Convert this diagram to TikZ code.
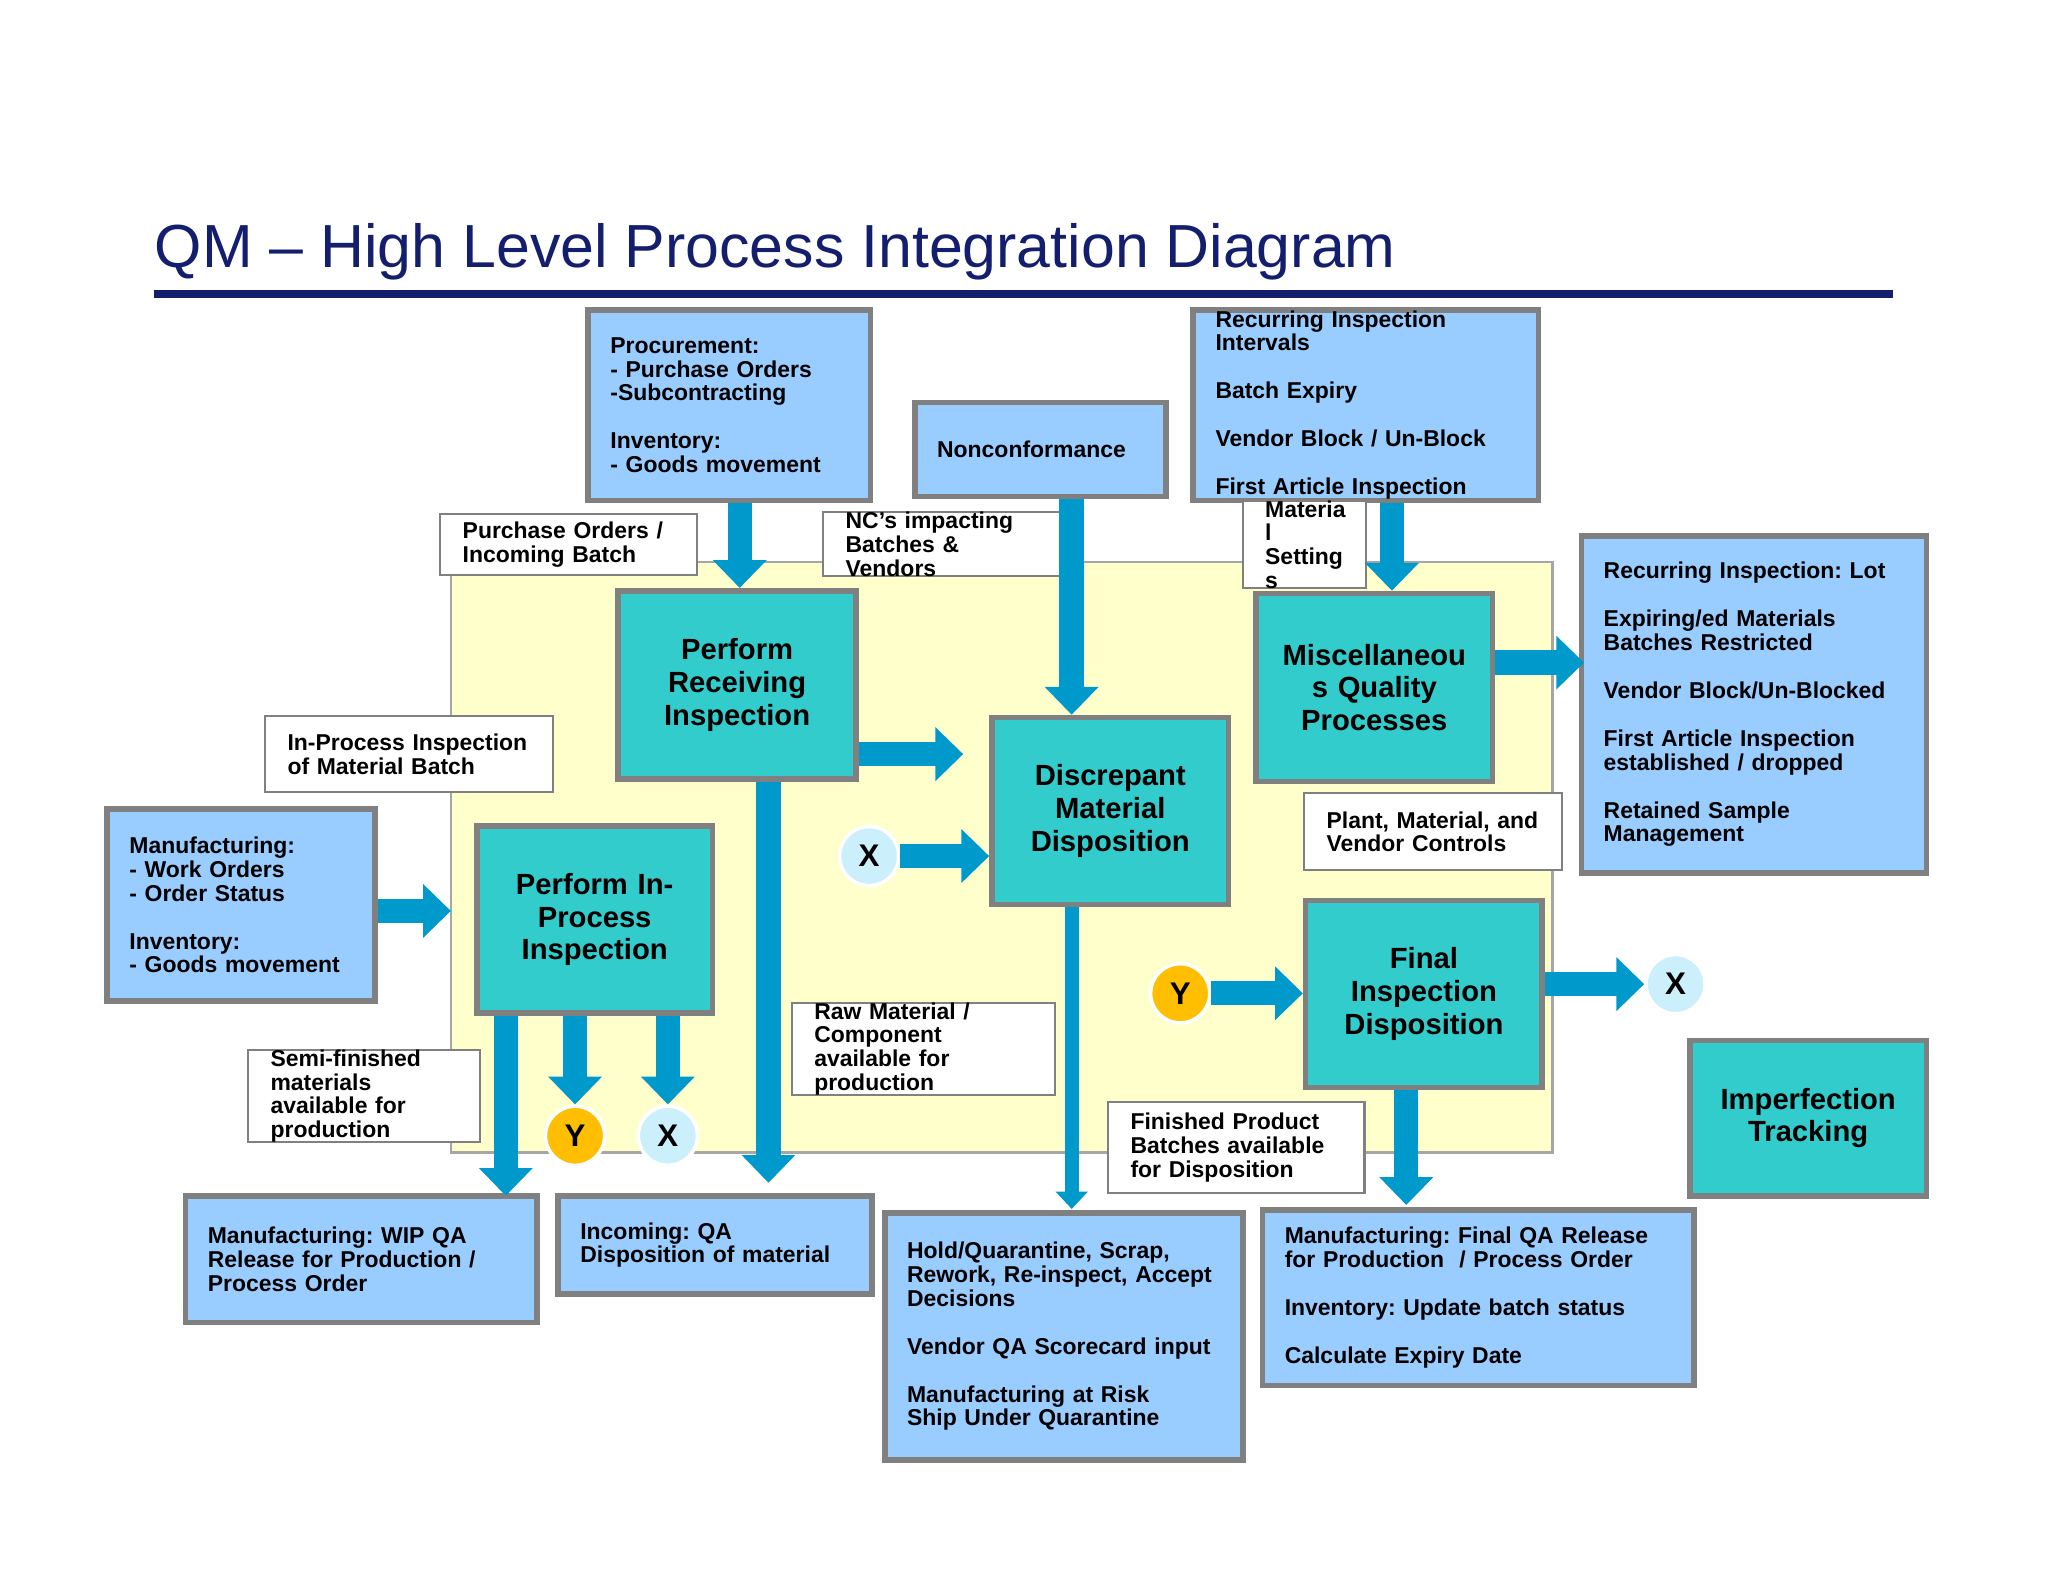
\documentclass[tikz,border=0pt]{standalone}
\usepackage{fontspec}
\setmainfont{Liberation Sans}
\usetikzlibrary{arrows.meta}
\frenchspacing
\definecolor{navy}{RGB}{20,30,110}
\definecolor{lblue}{RGB}{153,204,255}
\definecolor{teal1}{RGB}{51,204,204}
\definecolor{pale}{RGB}{255,255,204}
\definecolor{arr}{RGB}{0,153,204}
\definecolor{rim}{RGB}{128,128,128}
\definecolor{amber}{RGB}{255,190,0}
\tikzset{
  base/.style={draw=rim, line width=1.6pt, inner sep=0pt, font=\bfseries\fontsize{6.6}{6.8}\selectfont},
  info/.style={base, fill=lblue, align=left},
  proc/.style={base, fill=teal1, align=center, font=\bfseries\fontsize{8.4}{9.4}\selectfont},
  tag/.style={draw=rim, line width=0.6pt, fill=white, inner sep=0pt, align=left, font=\bfseries\fontsize{6.6}{6.8}\selectfont},
  blk/.style={draw=arr, line width=7pt, -{Triangle[length=8pt,width=15pt]}},
  thin/.style={draw=arr, line width=4pt, -{Triangle[length=5pt,width=9pt]}},
  circ/.style={circle, draw=white, line width=1pt, minimum size=17pt, inner sep=0pt, font=\bfseries\fontsize{9}{9}\selectfont},
}
% box by its corners, in reference pixels
\newcommand\qbox[7]{%
  \pgfmathsetmacro\bw{(#4-#2)*0.01321}%
  \pgfmathsetmacro\bh{(#5-#3)*0.01321}%
  \pgfmathsetmacro\tw{(#4-#2)*0.01321-0.45}%
  \node[#6, minimum width=\bw cm, minimum height=\bh cm, text width=\tw cm] (#1) at ({(#2+#4)/2},{(#3+#5)/2}) {#7};}
\begin{document}
\begin{tikzpicture}[x=0.01321cm, y=-0.01321cm]
\useasboundingbox (0,0) rectangle (1567,1210);
% title
\node[anchor=base west, text=navy, font=\fontsize{17.5}{18}\selectfont, inner sep=0pt] (title) at (118,205) {QM -- High Level Process Integration Diagram};
\draw[navy, line width=2.2pt] (118,225) -- (1448,225);
% yellow area
\draw[fill=pale, draw=rim!70, line width=0.8pt] (345,430) rectangle (1188,882);

% information boxes
\qbox{proc}{450}{237}{666}{383}{info}{Procurement:\\- Purchase Orders\\-Subcontracting\\[7pt]Inventory:\\- Goods movement}
\qbox{nonc}{700}{308}{892}{380}{info}{Nonconformance}
\qbox{recur}{913}{237}{1177}{383}{info}{Recurring Inspection\\Intervals\\[7pt]Batch Expiry\\[7pt]Vendor Block / Un-Block\\[7pt]First Article Inspection}
\qbox{rlist}{1210}{410}{1474}{668}{info}{Recurring Inspection: Lot\\[7pt]Expiring/ed Materials\\Batches Restricted\\[7pt]Vendor Block/Un-Blocked\\[7pt]First Article Inspection\\established / dropped\\[7pt]Retained Sample\\Management}
\qbox{manu}{82}{619}{287}{766}{info}{Manufacturing:\\- Work Orders\\- Order Status\\[7pt]Inventory:\\- Goods movement}
\qbox{wip}{142}{915}{411}{1012}{info}{Manufacturing: WIP QA\\Release for Production /\\Process Order}
\qbox{incqa}{427}{915}{667}{990}{info}{Incoming: QA\\Disposition of material\\[6pt]}
\qbox{hold}{677}{928}{951}{1117}{info}{Hold/Quarantine, Scrap,\\Rework, Re-inspect, Accept\\Decisions\\[7pt]Vendor QA Scorecard input\\[7pt]Manufacturing at Risk\\Ship Under Quarantine}
\qbox{finqa}{966}{926}{1296}{1060}{info}{Manufacturing: Final QA Release\\for Production~ / Process Order\\[7pt]Inventory: Update batch status\\[7pt]Calculate Expiry Date}

% process boxes
\qbox{rec}{473}{452}{655}{596}{proc}{Perform\\Receiving\\Inspection}
\qbox{inp}{365}{632}{545}{775}{proc}{Perform In-\\Process\\Inspection}
\qbox{disc}{759}{549}{940}{692}{proc}{Discrepant\\Material\\Disposition}
\qbox{misc}{961}{454}{1142}{598}{proc}{Miscellaneou\\s Quality\\Processes}
\qbox{fin}{999}{689}{1180}{832}{proc}{Final\\Inspection\\Disposition}
\qbox{imp}{1293}{796}{1474}{915}{proc}{Imperfection\\Tracking}

% labels
\qbox{t1}{337}{393}{533}{440}{tag}{Purchase Orders /\\Incoming Batch}
\qbox{t2}{630}{393}{819}{440}{tag}{NC's impacting\\Batches \&\\Vendors}
\qbox{t3}{951}{393}{1045}{440}{tag}{Materia\\l\\Setting\\s}
\qbox{t4}{203}{548}{423}{606}{tag}{In-Process Inspection\\of Material Batch}
\qbox{t5}{998}{607}{1195}{666}{tag}{Plant, Material, and\\Vendor Controls}
\qbox{t6}{606}{773}{807}{832}{tag}{Raw Material /\\Component\\available for\\production}
\qbox{t7}{190}{809}{367}{868}{tag}{Semi-finished\\materials\\available for\\production}
\qbox{t8}{848}{843}{1044}{913}{tag}{Finished Product\\Batches available\\for Disposition}

% connector circles
\node[circ, fill=cyan!20] (x1) at (665,655) {X};
\node[circ, fill=amber] (y1) at (903,760) {Y};
\node[circ, fill=cyan!20] (x2) at (1282,753) {X};
\node[circ, fill=amber] (y2) at (440,869) {Y};
\node[circ, fill=cyan!20] (x3) at (511,869) {X};

\coordinate (ein) at (345,697);
\coordinate (eout) at (1212,507);
\coordinate (erec) at (737,577);
\coordinate (edown) at (588,905);

% block arrows
\draw[blk] ([xshift=3pt]proc.south) -- ([xshift=3pt]proc.south |- rec.north);
\draw[blk] ([xshift=9pt]nonc.south) -- ([xshift=9pt]nonc.south |- disc.north);
\draw[blk] (recur.south -| 1065,0) -- (1065,452);
\draw[blk] (misc.east |- eout) -- (eout);
\draw[blk] (rec.east |- erec) -- (erec);
\draw[blk] (x1) -- (x1 -| disc.west);
\draw[blk] (manu.east |- ein) -- (ein);
\draw[blk] (rec.south -| edown) -- (edown);
\draw[thin] (disc.south -| 820,0) -- (820,925);
\draw[blk] (y1) -- (y1 -| fin.west);
\draw[blk] (fin.east |- x2) -- (x2);
\draw[blk] (fin.south -| 1076,0) -- (1076,922);
\draw[blk] (inp.south -| 387,0) -- (387,915);
\draw[blk] (inp.south -| y2) -- (y2.north);
\draw[blk] (inp.south -| x3) -- (x3.north);
\end{tikzpicture}
\end{document}
